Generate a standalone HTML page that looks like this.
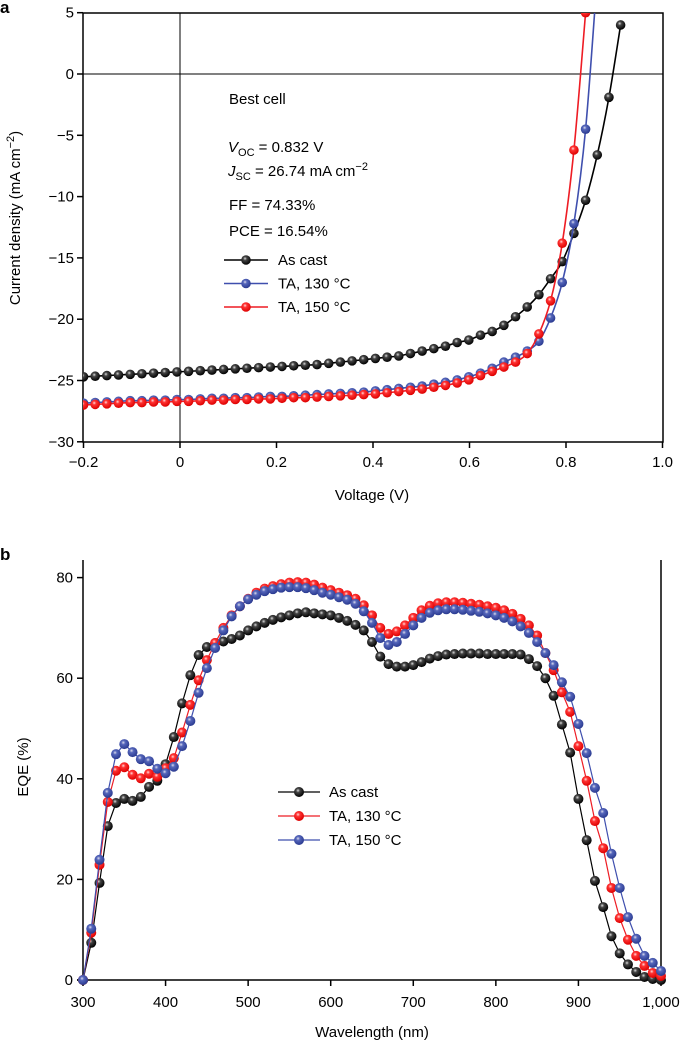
<!DOCTYPE html>
<html><head><meta charset="utf-8"><style>
html,body{margin:0;padding:0;background:#fff;}
svg{display:block;font-family:"Liberation Sans",sans-serif;}
</style></head><body>
<svg id="s" width="685" height="1045" viewBox="0 0 685 1045" xmlns="http://www.w3.org/2000/svg">
<defs>
<radialGradient id="gk" cx="0.4" cy="0.35" r="0.65"><stop offset="0" stop-color="#ddd"/><stop offset="0.3" stop-color="#444"/><stop offset="1" stop-color="#000"/></radialGradient>
<radialGradient id="gr" cx="0.4" cy="0.35" r="0.65"><stop offset="0" stop-color="#fdd"/><stop offset="0.3" stop-color="#f33"/><stop offset="1" stop-color="#d00"/></radialGradient>
<radialGradient id="gb" cx="0.4" cy="0.35" r="0.65"><stop offset="0" stop-color="#dde"/><stop offset="0.3" stop-color="#5566bb"/><stop offset="1" stop-color="#2a3a90"/></radialGradient>
<clipPath id="clipA"><rect x="83" y="13" width="580" height="429"/></clipPath>
<clipPath id="clipB"><rect x="78" y="560" width="590" height="425"/></clipPath>
</defs>
<g id="gA"></g>
<g id="gB"></g>
</svg>
<script>
// ---- Chart a data ----
const jvVoltStart = -0.2;
const jvVoltStep = 0.0242;
const jvAsCast = [-24.7,-24.65,-24.6,-24.55,-24.5,-24.45,-24.4,-24.35,-24.3,-24.25,-24.2,-24.15,-24.1,-24.05,-24.0,-23.95,-23.9,-23.85,-23.8,-23.75,-23.7,-23.6,-23.5,-23.4,-23.3,-23.2,-23.1,-23.0,-22.8,-22.6,-22.4,-22.2,-21.9,-21.7,-21.3,-21.0,-20.5,-19.8,-19.0,-18.0,-16.7,-15.3,-13.0,-10.3,-6.6,-1.9,4.0];
const jvTA130 = [-26.85,-26.8,-26.75,-26.7,-26.65,-26.65,-26.6,-26.6,-26.55,-26.55,-26.5,-26.45,-26.45,-26.4,-26.4,-26.35,-26.3,-26.3,-26.25,-26.2,-26.15,-26.1,-26.05,-26.0,-25.95,-25.85,-25.75,-25.65,-25.55,-25.45,-25.3,-25.15,-24.95,-24.7,-24.4,-24.0,-23.5,-23.1,-22.6,-21.8,-19.9,-17.0,-12.2,-4.5,8.0];
const jvTA150 = [-27.0,-26.95,-26.9,-26.85,-26.8,-26.8,-26.75,-26.75,-26.7,-26.7,-26.65,-26.6,-26.6,-26.55,-26.55,-26.5,-26.5,-26.45,-26.4,-26.4,-26.35,-26.3,-26.25,-26.2,-26.15,-26.1,-26.0,-25.9,-25.8,-25.7,-25.55,-25.4,-25.2,-24.95,-24.6,-24.25,-23.9,-23.5,-22.8,-21.2,-18.5,-13.8,-6.2,5.0];
const jvXTicks = [-0.2,0,0.2,0.4,0.6,0.8,1.0];
const jvXTickLabels = ["\u22120.2","0","0.2","0.4","0.6","0.8","1.0"];
const jvYTicks = [5,0,-5,-10,-15,-20,-25,-30];
const jvYTickLabels = ["5","0","\u22125","\u221210","\u221215","\u221220","\u221225","\u221230"];

// ---- Chart b data ----
const eqeWaveStart = 300;
const eqeWaveStep = 10;
const eqeAsCast = [0,7.4,19.3,30.6,35.2,36,35.6,36.4,38.4,39.6,42.9,48.3,55,60.6,64.6,66.2,67,67.3,67.8,68.5,69.5,70.3,71,71.6,72.1,72.5,72.9,73.1,72.9,72.7,72.5,72,71.4,70.6,69.5,67.2,64.3,62.8,62.3,62.3,62.6,63.2,63.9,64.4,64.7,64.8,64.9,64.9,64.9,64.8,64.8,64.8,64.8,64.7,63.8,62.4,60,56.5,50.8,45.2,36,27.8,19.7,14.5,8.7,5.3,3.1,1.6,0.6,0.2,0];
const eqeTA130 = [0,9.4,22.9,35.4,41.6,42.3,40.8,40.1,41,40.4,42.1,44.1,49.2,54.7,59.6,63.6,67,70,72.5,74.3,75.8,77,77.8,78.3,78.7,79,79.1,79,78.6,78,77.5,77,76.5,75.8,74.5,72.5,70,68.8,69.3,70.5,72,73.5,74.4,74.9,75.1,75.1,75,74.8,74.6,74.3,74,73.5,72.8,71.8,70.5,68.5,65,61.6,57.2,53.3,46.5,39.6,31.6,26.2,18.3,12.3,8,4.8,2.8,1.4,0.8];
const eqeTA150 = [0,10.2,23.9,37.2,44.9,46.9,45.3,43.9,43.5,42,41.1,42.4,46.5,51.5,57.1,62,66,69.5,72.3,74.3,75.7,76.6,77.3,77.7,78,78.1,78.1,77.9,77.5,77,76.6,76.1,75.6,74.8,73.3,71,68,66.6,67.2,68.8,70.5,72,73,73.5,73.7,73.7,73.6,73.4,73.2,72.9,72.5,72,71.3,70.3,69,67.2,65,62.6,59.2,56.3,50.9,45.1,38.2,33.2,25.1,18.3,12.5,8.2,4.8,3.4,1.8];
const eqeXTicks = [300,400,500,600,700,800,900,1000];
const eqeXTickLabels = ["300","400","500","600","700","800","900","1,000"];
const eqeYTicks = [0,20,40,60,80];
const eqeYTickLabels = ["0","20","40","60","80"];

const NS = "http://www.w3.org/2000/svg";
function mk(tag, attrs, parent, text){
  const e = document.createElementNS(NS, tag);
  for (const k in attrs) e.setAttribute(k, attrs[k]);
  if (text !== undefined) e.textContent = text;
  parent.appendChild(e);
  return e;
}
function smoothPath(pts){
  let d = "M" + pts[0][0].toFixed(2) + "," + pts[0][1].toFixed(2);
  for (let i = 0; i < pts.length - 1; i++){
    const p0 = pts[i-1] || pts[i], p1 = pts[i], p2 = pts[i+1], p3 = pts[i+2] || p2;
    const c1x = p1[0] + (p2[0]-p0[0])/6, c1y = p1[1] + (p2[1]-p0[1])/6;
    const c2x = p2[0] - (p3[0]-p1[0])/6, c2y = p2[1] - (p3[1]-p1[1])/6;
    d += " C" + c1x.toFixed(2)+","+c1y.toFixed(2)+" "+c2x.toFixed(2)+","+c2y.toFixed(2)+" "+p2[0].toFixed(2)+","+p2[1].toFixed(2);
  }
  return d;
}

// ===== Chart a =====
const gA = document.getElementById("gA");
const axL = 83, axR = 663, axT = 13, axB = 442;
function xA(v){ return 180 + v * 482.5; }
function yA(j){ return 74 - j * 12.26; }

let t = mk("text", {x:0, y:13, "font-size":17, "font-weight":"bold"}, gA, "a");



let r = mk("rect", {x:axL, y:axT, width:axR-axL, height:axB-axT, fill:"none", stroke:"#000", "stroke-width":1.5}, gA);


let l = mk("line", {x1:axL, x2:axR, y1:yA(0), y2:yA(0), stroke:"#000", "stroke-width":1}, gA);


l = mk("line", {x1:xA(0), x2:xA(0), y1:axT, y2:axB, stroke:"#000", "stroke-width":1}, gA);



jvXTicks.forEach((v,i)=>{
  const tk = mk("line", {x1:xA(v), x2:xA(v), y1:axB, y2:axB+6, stroke:"#000", "stroke-width":1.5}, gA);
  
  
  const tl = mk("text", {x:xA(v), y:axB+25, "font-size":15, "text-anchor":"middle"}, gA, jvXTickLabels[i]);
  
  
});
jvYTicks.forEach((v,i)=>{
  const tk = mk("line", {x1:axL-6, x2:axL, y1:yA(v), y2:yA(v), stroke:"#000", "stroke-width":1.5}, gA);
  
  
  const tl = mk("text", {x:axL-9, y:yA(v)+5, "font-size":15, "text-anchor":"end"}, gA, jvYTickLabels[i]);
  
  
});
t = mk("text", {x:372, y:500, "font-size":15, "text-anchor":"middle"}, gA, "Voltage (V)");


t = mk("text", {x:0, y:0, "font-size":15, "text-anchor":"middle", transform:"translate(20,218) rotate(-90)"}, gA);


t.innerHTML = 'Current density (mA cm<tspan dy="-6" font-size="11">\u22122</tspan><tspan dy="6">)</tspan>';

const jvSeries = [
  {name:"as-cast", data:jvAsCast, color:"#000", grad:"gk"},
  {name:"ta-130", data:jvTA130, color:"#3f4fae", grad:"gb"},
  {name:"ta-150", data:jvTA150, color:"#ee1c24", grad:"gr"}
];
jvSeries.forEach(s=>{
  const g = mk("g", {"clip-path":"url(#clipA)"}, gA);
  
  
  const pts = s.data.map((j,i)=>[xA(jvVoltStart + i*jvVoltStep), yA(j)]);
  const p = mk("path", {d:smoothPath(pts), fill:"none", stroke:s.color, "stroke-width":1.6}, g);
  
  
  pts.forEach(pt=>{
    const c = mk("circle", {cx:pt[0], cy:pt[1], r:4.8, fill:"url(#"+s.grad+")"}, g);
    
    
  });
});

// annotation text
const ann = mk("g", {"font-size":15}, gA);


mk("text", {x:229, y:104}, ann, "Best cell");
let tt = mk("text", {x:228, y:152}, ann); tt.innerHTML = '<tspan font-style="italic">V</tspan><tspan dy="4" font-size="11">OC</tspan><tspan dy="-4"> = 0.832 V</tspan>';
tt = mk("text", {x:228, y:176}, ann); tt.innerHTML = '<tspan font-style="italic">J</tspan><tspan dy="4" font-size="11">SC</tspan><tspan dy="-4"> = 26.74 mA cm</tspan><tspan dy="-6" font-size="11">\u22122</tspan>';
mk("text", {x:229, y:210}, ann, "FF = 74.33%");
mk("text", {x:229, y:236}, ann, "PCE = 16.54%");

const legA = [["As cast","#000","gk"],["TA, 130 \u00b0C","#3f4fae","gb"],["TA, 150 \u00b0C","#ee1c24","gr"]];
legA.forEach((e,i)=>{
  const y = 260 + i*23.5;
  const g = mk("g", {}, gA);
  
  
  mk("line", {x1:224, x2:268, y1:y, y2:y, stroke:e[1], "stroke-width":1.6}, g);
  mk("circle", {cx:246, cy:y, r:4.8, fill:"url(#"+e[2]+")"}, g);
  mk("text", {x:278, y:y+5, "font-size":15}, g, e[0]);
});

// ===== Chart b =====
const gB = document.getElementById("gB");
const bL = 83, bR = 661, bB = 980;
function xB(w){ return 83 + (w - 300) * 0.8257; }
function yB(e){ return 980 - e * 5.03; }

t = mk("text", {x:0, y:560, "font-size":17, "font-weight":"bold"}, gB, "b");


l = mk("line", {x1:bL, x2:bL, y1:560, y2:bB, stroke:"#000", "stroke-width":1.5}, gB);


l = mk("line", {x1:bR, x2:bR, y1:560, y2:bB, stroke:"#000", "stroke-width":1.5}, gB);


l = mk("line", {x1:bL-6, x2:bR, y1:bB, y2:bB, stroke:"#000", "stroke-width":1.5}, gB);



eqeXTicks.forEach((v,i)=>{
  const tk = mk("line", {x1:xB(v), x2:xB(v), y1:bB, y2:bB+6, stroke:"#000", "stroke-width":1.5}, gB);
  
  
  const tl = mk("text", {x:xB(v), y:bB+27, "font-size":15, "text-anchor":"middle"}, gB, eqeXTickLabels[i]);
  
  
});
eqeYTicks.forEach((v,i)=>{
  const tk = mk("line", {x1:bL-6, x2:bL, y1:yB(v), y2:yB(v), stroke:"#000", "stroke-width":1.5}, gB);
  
  
  const tl = mk("text", {x:bL-10, y:yB(v)+5, "font-size":15, "text-anchor":"end"}, gB, eqeYTickLabels[i]);
  
  
});
t = mk("text", {x:372, y:1037, "font-size":15, "text-anchor":"middle"}, gB, "Wavelength (nm)");


t = mk("text", {x:0, y:0, "font-size":15, "text-anchor":"middle", transform:"translate(28,767) rotate(-90)"}, gB, "EQE (%)");



const eqeSeries = [
  {name:"as-cast", data:eqeAsCast, color:"#000", grad:"gk"},
  {name:"ta-130", data:eqeTA130, color:"#ee1c24", grad:"gr"},
  {name:"ta-150", data:eqeTA150, color:"#3f4fae", grad:"gb"}
];
eqeSeries.forEach(s=>{
  const g = mk("g", {"clip-path":"url(#clipB)"}, gB);
  
  
  const pts = s.data.map((e,i)=>[xB(eqeWaveStart + i*eqeWaveStep), yB(e)]);
  let d = "M" + pts.map(p=>p[0].toFixed(2)+","+p[1].toFixed(2)).join(" L");
  const p = mk("path", {d:d, fill:"none", stroke:s.color, "stroke-width":1.2}, g);
  
  
  pts.forEach(pt=>{
    const c = mk("circle", {cx:pt[0], cy:pt[1], r:5.0, fill:"url(#"+s.grad+")"}, g);
    
    
  });
});

const legB = [["As cast","#000","gk"],["TA, 130 \u00b0C","#ee1c24","gr"],["TA, 150 \u00b0C","#3f4fae","gb"]];
legB.forEach((e,i)=>{
  const y = 792 + i*24;
  const g = mk("g", {}, gB);
  
  
  mk("line", {x1:278, x2:320, y1:y, y2:y, stroke:e[1], "stroke-width":1.2}, g);
  mk("circle", {cx:299, cy:y, r:5.0, fill:"url(#"+e[2]+")"}, g);
  mk("text", {x:329, y:y+5, "font-size":15}, g, e[0]);
});
</script>
</body></html>
